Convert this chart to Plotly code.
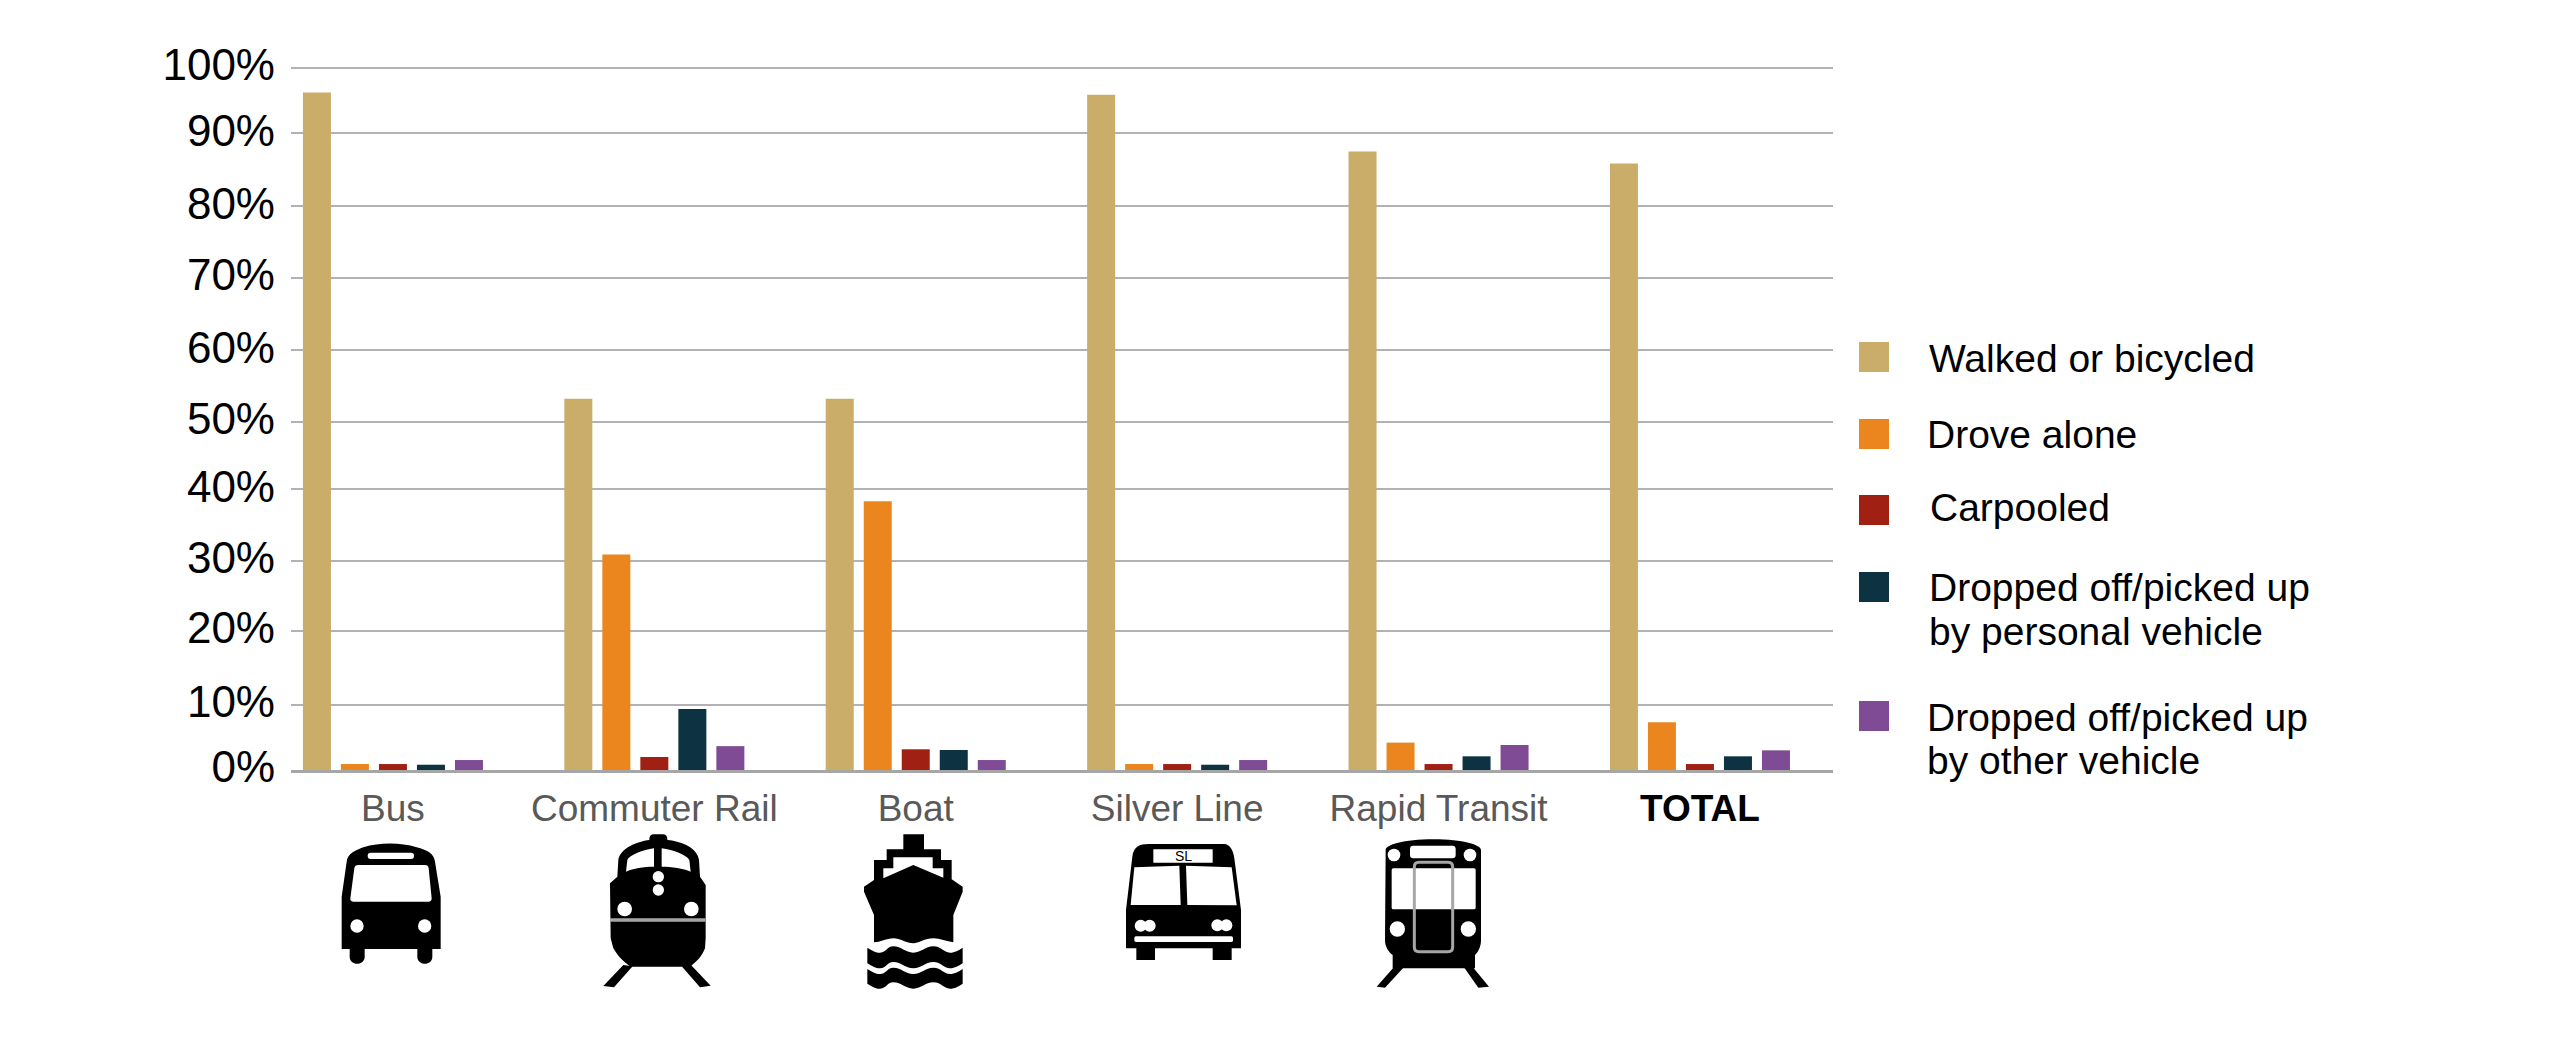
import re
import plotly.graph_objects as go

categories = ["Bus", "Commuter Rail", "Boat", "Silver Line", "Rapid Transit", "TOTAL"]
tick_labels = ['Bus', 'Commuter Rail', 'Boat', 'Silver Line', 'Rapid Transit',
               '<span style="color:#000000"><b>TOTAL</b></span>']
walked = [96.5, 52.9, 52.9, 96.2, 88.1, 86.4]
drove = [0.85, 30.7, 38.3, 0.85, 3.9, 6.8]
carpooled = [0.85, 1.85, 2.95, 0.85, 0.85, 0.85]
dropped_personal = [0.75, 8.7, 2.85, 0.75, 1.95, 1.95]
dropped_other = [1.42, 3.4, 1.42, 1.42, 3.56, 2.8]

# The reference's gridlines are very slightly uneven; these are where they sit.
y_tick_positions = [0, 9.3, 19.8, 29.8, 40.0, 49.6, 59.8, 70.1, 80.3, 90.7, 100]
y_tick_labels = ["0%", "10%", "20%", "30%", "40%", "50%", "60%", "70%", "80%", "90%", "100%"]

series = [
    ("Walked or bicycled", walked, "#C9AD69"),
    ("Drove alone", drove, "#EA861D"),
    ("Carpooled", carpooled, "#A02113"),
    ("Dropped off/picked up by personal vehicle", dropped_personal, "#0D3343"),
    ("Dropped off/picked up by other vehicle", dropped_other, "#7F4B95"),
]

W, H = 2551, 1037
L, R, T, B = 291, 1833, 66, 770
Y_MAX = 100 * (770 - 66) / (770 - 68)
FONT = "Liberation Sans"
GRAY = "#A6A6A6"


def px(x):
    return (x - L) / (R - L)


def py(y):
    return (B - y) / (B - T)


def path_shape(origin, d, fill="#000000"):
    """Icon outline written in 3x crop coordinates, placed via paper coordinates."""
    ox, oy = origin
    out = []
    for tok in re.findall(r"[MLCQZ]|-?\d+\.?\d*,-?\d+\.?\d*", d):
        if "," in tok:
            a, b = tok.split(",")
            out.append(f"{px(ox + float(a) / 3):.5f},{py(oy + float(b) / 3):.5f}")
        else:
            out.append(tok)
    return dict(type="path", xref="paper", yref="paper", path=" ".join(out),
                fillcolor=fill, line=dict(width=0))


def oval(origin, cx, cy, r, fill="#FFFFFF"):
    ox, oy = origin
    return dict(type="circle", xref="paper", yref="paper",
                x0=px(ox + (cx - r) / 3), x1=px(ox + (cx + r) / 3),
                y0=py(oy + (cy + r) / 3), y1=py(oy + (cy - r) / 3),
                fillcolor=fill, line=dict(width=0))


def rrect(x0, y0, x1, y1, r):
    return (f"M{x0 + r},{y0} L{x1 - r},{y0} Q{x1},{y0} {x1},{y0 + r} L{x1},{y1 - r} "
            f"Q{x1},{y1} {x1 - r},{y1} L{x0 + r},{y1} Q{x0},{y1} {x0},{y1 - r} "
            f"L{x0},{y0 + r} Q{x0},{y0} {x0 + r},{y0} Z")


def wave_segments(y):
    return [
        ((70, y + 10), (75, y + 15), (90, y + 15)),
        ((110, y + 15), (110, y - 4), (130, y - 4)),
        ((155, y - 4), (165, y + 15), (190, y + 15)),
        ((215, y + 15), (225, y - 4), (250, y - 4)),
        ((275, y - 4), (280, y + 15), (300, y + 15)),
        ((315, y + 15), (325, y + 8), (338, y)),
    ]


def wave_band(top, bottom):
    d = f"M52,{top} "
    for c1, c2, e in wave_segments(top):
        d += f"C{c1[0]},{c1[1]} {c2[0]},{c2[1]} {e[0]},{e[1]} "
    d += f"L338,{bottom} "
    segs = wave_segments(bottom)
    pts = [(52, bottom)] + [s[2] for s in segs]
    for i in range(len(segs) - 1, -1, -1):
        c1, c2, _ = segs[i]
        p = pts[i]
        d += f"C{c2[0]},{c2[1]} {c1[0]},{c1[1]} {p[0]},{p[1]} "
    return d + "Z"


shapes = []

# Bus
o = (320, 830)
shapes += [
    path_shape(o, "M65,357 L65,200 L80,95 C82,70 110,60 130,52 C180,37 240,37 290,52 C320,60 342,70 345,95 L362,200 L362,357 Z"),
    path_shape(o, "M89,350 L134,350 L134,380 C134,408 89,408 89,380 Z"),
    path_shape(o, "M292,350 L337,350 L337,380 C337,408 292,408 292,380 Z"),
    path_shape(o, "M103,115 C104,108 108,105 115,105 L315,105 C322,105 325,108 326,115 L335,205 C335,212 332,215 325,215 L100,215 C93,215 90,210 91,205 Z", "#FFFFFF"),
    path_shape(o, rrect(143, 68, 282, 87, 9), "#FFFFFF"),
    oval(o, 111, 288, 20), oval(o, 314, 288, 20),
]

# Commuter rail
o = (590, 825)
shapes += [
    path_shape(o, rrect(178, 28, 232, 62, 14)),
    path_shape(o, "M82,155 L85,105 C90,70 140,50 178,45 L232,45 C280,50 322,70 327,105 L330,155 L347,180 L347,340 L345,370 C335,395 320,410 300,425 L122,425 C100,410 85,395 70,370 L62,340 L60,175 Z"),
    path_shape(o, "M108,140 L112,105 C118,90 160,75 192,70 L192,125 C160,125 130,130 108,140 Z", "#FFFFFF"),
    path_shape(o, "M215,70 C250,75 290,90 298,105 L302,140 C280,130 245,125 215,125 Z", "#FFFFFF"),
    oval(o, 205, 155, 17), oval(o, 205, 195, 17), oval(o, 104, 252, 22), oval(o, 304, 252, 22),
    path_shape(o, "M60,280 L347,280 L347,290 L60,290 Z", GRAY),
    path_shape(o, "M100,420 L128,424 L72,487 L40,483 Z"),
    path_shape(o, "M275,424 L303,420 L362,482 L330,487 Z"),
]

# Boat
o = (850, 825)
shapes += [
    path_shape(o, "M160,28 L222,28 L222,73 L273,73 L273,105 L305,105 L305,163 L338,185 L338,200 L310,270 L310,352 "
                  "C290,350 270,340 250,340 C225,340 205,355 190,355 C170,355 150,340 130,340 C110,340 90,352 72,352 "
                  "L72,270 L42,200 L42,185 L72,165 L72,105 L110,105 L110,73 L160,73 Z"),
    path_shape(o, "M100,160 L100,130 L130,130 L130,97 L248,97 L248,130 L280,130 L280,158 L190,120 Z", "#FFFFFF"),
    path_shape(o, wave_band(368, 415)),
    path_shape(o, wave_band(432, 476)),
]

# Silver Line
o = (1115, 830)
shapes += [
    path_shape(o, "M33,355 L33,240 L52,80 C55,50 75,42 100,42 L330,42 C345,45 355,60 358,85 L378,240 L378,355 L350,355 L350,390 L293,390 L293,355 L120,355 L120,390 L64,390 L64,355 Z"),
    path_shape(o, "M115,58 L293,58 L293,98 L115,98 Z", "#FFFFFF"),
    path_shape(o, "M58,112 L193,107 L197,225 L47,225 Z", "#FFFFFF"),
    path_shape(o, "M213,107 L350,112 L365,226 L217,225 Z", "#FFFFFF"),
    oval(o, 77, 287, 18), oval(o, 104, 287, 18), oval(o, 307, 286, 18), oval(o, 334, 286, 18),
    path_shape(o, rrect(58, 319, 354, 336, 5), "#FFFFFF"),
]

# Rapid transit
o = (1370, 830)
door = path_shape(o, rrect(133, 97, 248, 365, 14), "rgba(0,0,0,0)")
door["line"] = dict(color=GRAY, width=3)
shapes += [
    path_shape(o, "M47,60 C47,45 100,28 190,28 C280,28 333,45 333,60 L333,330 C333,350 325,365 315,375 L315,415 L68,415 L68,375 C55,365 45,350 45,330 Z"),
    path_shape(o, "M70,413 L100,413 L45,473 L20,470 Z"),
    path_shape(o, "M283,413 L310,413 L357,470 L325,473 Z"),
    path_shape(o, rrect(120, 47, 257, 85, 10), "#FFFFFF"),
    oval(o, 72, 75, 19), oval(o, 300, 75, 19), oval(o, 82, 297, 23), oval(o, 295, 297, 23),
    path_shape(o, rrect(65, 115, 317, 238, 5), "#FFFFFF"),
    door,
]

# Legend swatches (y top in pixels) and legend text lines (left, vertical centre, text)
swatch_tops = [342, 419, 495, 572, 701]
for top, (_, _, colour) in zip(swatch_tops, series):
    shapes.append(dict(type="rect", xref="paper", yref="paper",
                       x0=px(1859), x1=px(1889), y0=py(top + 30), y1=py(top),
                       fillcolor=colour, line=dict(width=0)))

legend_lines = [
    (1928, 358, "Walked or bicycled"),
    (1926, 434, "Drove alone"),
    (1929, 507, "Carpooled"),
    (1928, 587, "Dropped off/picked up"),
    (1928, 631, "by personal vehicle"),
    (1926, 717, "Dropped off/picked up"),
    (1926, 760, "by other vehicle"),
]
annotations = [
    dict(text=t, x=px(x), y=py(y), xref="paper", yref="paper", xanchor="left", yanchor="middle",
         showarrow=False, align="left", borderpad=0, font=dict(family=FONT, size=39, color="#000000"))
    for x, y, t in legend_lines
]
annotations.append(dict(text="SL", x=px(1115 + 204 / 3), y=py(830 + 79 / 3), xref="paper", yref="paper",
                        xanchor="center", yanchor="middle", showarrow=False, borderpad=0,
                        font=dict(family=FONT, size=14, color="#000000")))

fig = go.Figure()
for name, values, colour in series:
    fig.add_bar(name=name, x=categories, y=values, marker=dict(color=colour, line=dict(width=0)))

fig.update_layout(
    width=W, height=H, autosize=False, showlegend=False,
    paper_bgcolor="#FFFFFF", plot_bgcolor="#FFFFFF",
    margin=dict(l=L, r=W - R, t=T, b=H - B, pad=0),
    barmode="group", bargap=0.273, bargroupgap=0.263,
    shapes=shapes, annotations=annotations,
    font=dict(family=FONT),
    xaxis=dict(
        type="category", range=[-0.39, 5.509], tickmode="array",
        tickvals=categories, ticktext=tick_labels,
        tickfont=dict(family=FONT, size=37, color="#595959"),
        showline=True, linecolor=GRAY, linewidth=3, showgrid=False, ticks="",
        ticklabelstandoff=4, fixedrange=True,
    ),
    yaxis=dict(
        range=[0, Y_MAX], tickmode="array", tickvals=y_tick_positions, ticktext=y_tick_labels,
        tickfont=dict(family=FONT, size=44, color="#000000"),
        showgrid=True, gridcolor="#B3B1B6", gridwidth=2, zeroline=False, showline=False, ticks="",
        ticklabelstandoff=15, ticklabelshift=-3, fixedrange=True,
    ),
)

fig.write_html("out.html", config=dict(displayModeBar=False),
               post_script="document.body.style.margin='0';document.body.style.overflow='hidden';")
